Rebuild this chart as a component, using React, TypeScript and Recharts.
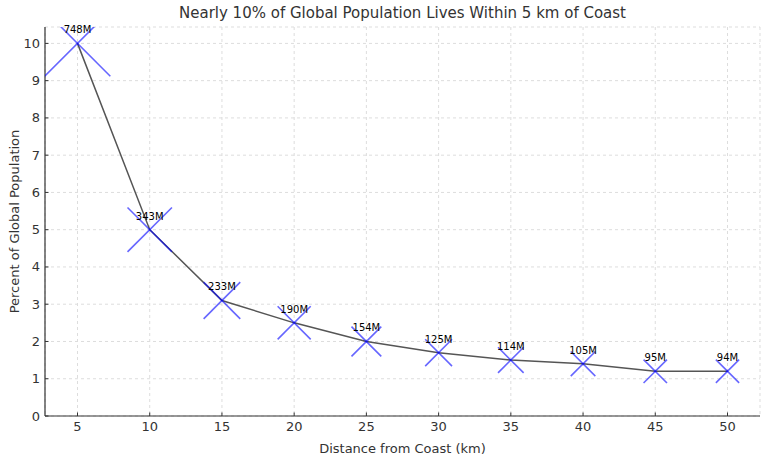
import {
  ComposedChart,
  Line,
  Scatter,
  XAxis,
  YAxis,
  CartesianGrid,
  usePlotArea,
} from "recharts";

const distances = [5, 10, 15, 20, 25, 30, 35, 40, 45, 50];
const percents = [10, 5, 3.1, 2.5, 2.0, 1.7, 1.5, 1.4, 1.2, 1.2];
const populations = [748, 343, 233, 190, 154, 125, 114, 105, 95, 94];
const xTicks = [5, 10, 15, 20, 25, 30, 35, 40, 45, 50];
const yTicks = [0, 1, 2, 3, 4, 5, 6, 7, 8, 9, 10];

const rows = distances.map((d, i) => ({ x: d, y: percents[i], pop: populations[i] }));

const FONT = "'DejaVu Sans', sans-serif";
const TICK_GAP = 5;

// clip the markers to the plot box, like matplotlib does
function PlotClip() {
  const area = usePlotArea();
  if (!area) return null;
  return (
    <defs>
      <clipPath id="plot-clip">
        <rect x={area.x} y={area.y} width={area.width} height={area.height} />
      </clipPath>
    </defs>
  );
}

// ticks point inward
function XTick(props: any) {
  const { x, y, payload } = props;
  const axisY = y - TICK_GAP;
  return (
    <g>
      <line x1={x} y1={axisY} x2={x} y2={axisY - 3.5} stroke="#333" />
      <text x={x} y={axisY + 15} textAnchor="middle" fontSize={13} fontFamily={FONT} fill="#333">
        {payload.value}
      </text>
    </g>
  );
}

function YTick(props: any) {
  const { x, y, payload } = props;
  const axisX = x + TICK_GAP;
  return (
    <g>
      <line x1={axisX} y1={y} x2={axisX + 3.5} y2={y} stroke="#333" />
      <text x={axisX - 5} y={y + 4.5} textAnchor="end" fontSize={13} fontFamily={FONT} fill="#333">
        {payload.value}
      </text>
    </g>
  );
}

function CrossMarker(props: any) {
  const { cx, cy, payload } = props;
  if (cx == null || cy == null) return null;
  const h = 1.2 * Math.sqrt(payload.pop);
  return (
    <g clipPath="url(#plot-clip)">
      <line x1={cx - h} y1={cy - h} x2={cx + h} y2={cy + h} stroke="#0000ff" strokeOpacity={0.6} strokeWidth={1.6} />
      <line x1={cx - h} y1={cy + h} x2={cx + h} y2={cy - h} stroke="#0000ff" strokeOpacity={0.6} strokeWidth={1.6} />
    </g>
  );
}

function PopLabel(props: any) {
  const { cx, cy, payload } = props;
  if (cx == null || cy == null) return null;
  return (
    <text x={cx} y={cy - 10} textAnchor="middle" fontSize={10} fontFamily={FONT} fill="#000">
      {payload.pop}M
    </text>
  );
}

export default function App() {
  return (
    <div style={{ position: "absolute", left: 0, top: 0, width: 768, height: 458, background: "#fff" }}>
      <div
        style={{
          position: "absolute",
          left: 45,
          width: 715,
          top: 4,
          textAlign: "center",
          fontFamily: FONT,
          fontSize: 15,
          color: "#333",
        }}
      >
        Nearly 10% of Global Population Lives Within 5 km of Coast
      </div>
      <ComposedChart
        width={768}
        height={458}
        data={rows}
        margin={{ top: 27, right: 8, bottom: 17, left: 10 }}
      >
        <PlotClip />
        <CartesianGrid stroke="#dddddd" strokeDasharray="3 3" />
        <XAxis
          type="number"
          dataKey="x"
          domain={[2.75, 52.25]}
          ticks={xTicks}
          height={25}
          tick={<XTick />}
          tickSize={0}
          tickMargin={TICK_GAP}
          tickLine={false}
          axisLine={{ stroke: "#333", strokeWidth: 1.2 }}
          label={{ value: "Distance from Coast (km)", position: "insideBottom", offset: -12, fontSize: 13, fontFamily: FONT, fill: "#333" }}
        />
        <YAxis
          type="number"
          dataKey="y"
          domain={[0, 10.44]}
          ticks={yTicks}
          width={35}
          tick={<YTick />}
          tickSize={0}
          tickMargin={TICK_GAP}
          tickLine={false}
          axisLine={{ stroke: "#333", strokeWidth: 1.2 }}
          label={{ value: "Percent of Global Population", angle: -90, position: "insideLeft", offset: 0, dx: 4, fontSize: 13, fontFamily: FONT, fill: "#333", style: { textAnchor: "middle" } }}
        />
        <Line
          dataKey="y"
          stroke="#555555"
          strokeWidth={1.5}
          dot={false}
          activeDot={false}
          isAnimationActive={false}
        />
        <Scatter dataKey="y" shape={CrossMarker} isAnimationActive={false} />
        <Scatter dataKey="y" shape={PopLabel} isAnimationActive={false} />
      </ComposedChart>
    </div>
  );
}
